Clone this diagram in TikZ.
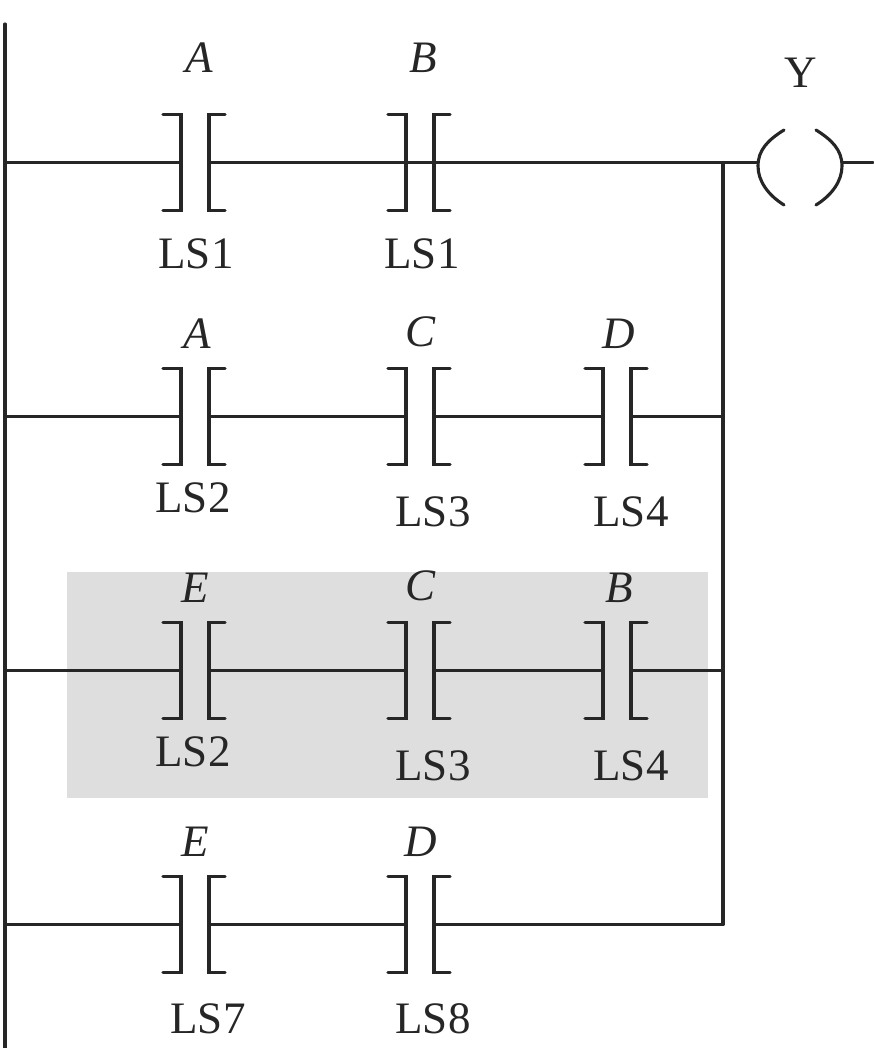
\documentclass[tikz,border=0pt]{standalone}
\usepackage{fontspec}
\setmainfont{Liberation Serif}
\tikzset{
  wire/.style={draw=black!85,line width=3.1pt,line cap=round,line join=miter},
  lab/.style={anchor=base,inner sep=0pt,outer sep=0pt,text=black!85,font=\fontsize{45}{50}\selectfont},
  vlab/.style={lab,font=\fontsize{45}{50}\selectfont\itshape},
  contact/.pic={
    \coordinate (-l) at (0,0);
    \coordinate (-r) at (28,0);
    \draw[wire] (-18,-48) -- (0,-48) -- (0,48) -- (-18,48);
    \draw[wire] (44,-48) -- (28,-48) -- (28,48) -- (44,48);
  }
}
\begin{document}
\begin{tikzpicture}[x=1pt,y=-1pt]
\useasboundingbox (0,0) rectangle (873,1048);
\fill[white] (0,0) rectangle (873,1048);
\node[fill=black!13,draw=none,minimum width=641pt,minimum height=226pt,inner sep=0pt,anchor=north west] (shade) at (67,572) {};
% rail and returns
\coordinate (railtop) at (5,24);
\coordinate (railbot) at (5,1048);
\coordinate (r1) at (5,162.5);
\coordinate (r2) at (5,416.5);
\coordinate (r3) at (5,670.5);
\coordinate (r4) at (5,924.5);
\coordinate (j1) at (723,162.5);
\coordinate (j2) at (723,416.5);
\coordinate (j3) at (723,670.5);
\coordinate (j4) at (723,924.5);
\coordinate (coilL) at (758,162.5);
\coordinate (coilR) at (842,162.5);
\coordinate (outR) at (873,162.5);
% contacts
\pic (a1) at (181,162.5) {contact};
\pic (a2) at (406,162.5) {contact};
\pic (b1) at (181,416.5) {contact};
\pic (b2) at (406,416.5) {contact};
\pic (b3) at (603,416.5) {contact};
\pic (c1) at (181,670.5) {contact};
\pic (c2) at (406,670.5) {contact};
\pic (c3) at (603,670.5) {contact};
\pic (d1) at (181,924.5) {contact};
\pic (d2) at (406,924.5) {contact};
% connectors
\draw[wire] (railtop) -- (railbot);
\draw[wire] (j1) -- (j4);
\draw[wire] (r1) -- (a1-l);
\draw[wire] (a1-r) -- (a2-l) -- (a2-r) -- (j1) -- (coilL);
\draw[wire] (coilR) -- (outR);
\draw[wire] (r2) -- (b1-l);
\draw[wire] (b1-r) -- (b2-l);
\draw[wire] (b2-r) -- (b3-l);
\draw[wire] (b3-r) -- (j2);
\draw[wire] (r3) -- (c1-l);
\draw[wire] (c1-r) -- (c2-l);
\draw[wire] (c2-r) -- (c3-l);
\draw[wire] (c3-r) -- (j3);
\draw[wire] (r4) -- (d1-l);
\draw[wire] (d1-r) -- (d2-l);
\draw[wire] (d2-r) -- (j4);
% coil
\draw[wire] (784,130) .. controls (768,140) and (758,150) .. (758,166) .. controls (758,181) and (768,195) .. (784,205);
\draw[wire] (816,130) .. controls (832,140) and (842,150) .. (842,166) .. controls (842,181) and (832,195) .. (816,205);
% labels
\node[vlab] (tA1) at (199,73) {A};
\node[vlab] (tB1) at (423,73) {B};
\node[lab] (tY) at (801,88) {Y};
\node[lab] (n11) at (196,269) {LS1};
\node[lab] (n12) at (422,269) {LS1};
\node[vlab] (tA2) at (197,348) {A};
\node[vlab] (tC2) at (421,346) {C};
\node[vlab] (tD2) at (619,348) {D};
\node[lab] (n21) at (193,512) {LS2};
\node[lab] (n22) at (433,526) {LS3};
\node[lab] (n23) at (631,526) {LS4};
\node[vlab] (tE3) at (195,602) {E};
\node[vlab] (tC3) at (421,600) {C};
\node[vlab] (tB3) at (619,602) {B};
\node[lab] (n31) at (193,766) {LS2};
\node[lab] (n32) at (433,780) {LS3};
\node[lab] (n33) at (631,780) {LS4};
\node[vlab] (tE4) at (195,856) {E};
\node[vlab] (tD4) at (421,856) {D};
\node[lab] (n41) at (208,1033) {LS7};
\node[lab] (n42) at (433,1033) {LS8};
\end{tikzpicture}
\end{document}
